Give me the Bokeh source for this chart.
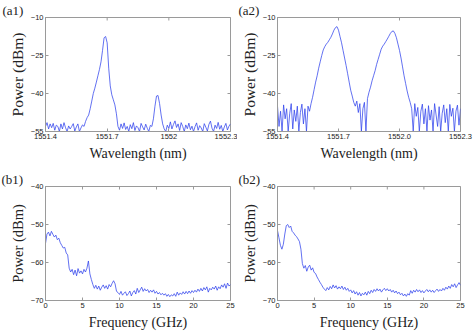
import numpy as np
from bokeh.plotting import figure
from bokeh.layouts import gridplot
from bokeh.models import FixedTicker, Title
from bokeh.embed import file_html
from bokeh.resources import INLINE

# ---------------- data ----------------
wl_start = 1551.4
wl_step = 0.0075
a1_power = [
    -53, -51.5, -54, -52, -53.5, -51.8, -54.5, -52.5, -53, -55,
    -52, -54, -51.5, -53.5, -55, -52.8, -54, -53, -51.9, -54.8,
    -53.2, -52, -55, -53.6, -52.4, -53, -51, -49.5, -48.5, -46,
    -43, -40, -37.9, -35.5, -33, -30.5, -27.5, -23, -18, -17.5,
    -20, -30, -37, -40.5, -42.5, -44.5, -48, -53, -54.5, -52,
    -53.8, -51.6, -54.2, -53, -55, -52.3, -53.9, -51.5, -54.6, -52.8,
    -53.5, -55, -51.8, -53.2, -54.4, -52.1, -53.7, -55, -52.6, -53,
    -50, -45, -41, -40.8, -44, -48.5, -52, -54, -55, -52.5,
    -53.8, -51.2, -54, -52.2, -50.8, -53.4, -52, -54.6, -51.5, -53,
    -55, -52.4, -53.9, -51.7, -54.3, -52.9, -55, -53.1, -51.6, -54.5,
    -52.7, -53.6, -55, -51.9, -53.3, -54.8, -52.2, -50.9, -53.7, -55,
    -52.5, -53.8, -51.4, -54.1, -52.6, -55, -53.2, -51.8, -54.4, -52.9,
    -52,
]
a2_power = [
    -45, -53, -47, -55, -44.5, -50, -46, -55, -48, -44,
    -54, -46.5, -51, -45, -55, -47.5, -44.2, -52, -46, -55,
    -45, -47, -44, -41.5, -38.5, -35.5, -33, -30, -27.5, -25,
    -22.8, -21.5, -20.5, -19.8, -18.8, -17.8, -16.5, -15, -14, -13.6,
    -15, -17.5, -20, -23, -26, -29, -32.2, -35.5, -38.7, -41,
    -43.5, -45, -43, -47.5, -44, -55, -46, -43.5, -55, -42,
    -39.5, -37.5, -35, -33, -31, -28.5, -26.5, -24.5, -22.5, -21.3,
    -20.5, -19.5, -18.5, -17.4, -16.3, -15.5, -15.3, -16.3, -18, -20.5,
    -23, -26, -29.5, -33, -36, -39, -41.5, -43.5, -46, -55,
    -44, -49, -45.5, -55, -47, -44.2, -52, -46, -55, -44.8,
    -50.5, -46.5, -55, -44, -48.5, -53, -45.2, -55, -47.8, -44.5,
    -51.5, -46, -55, -44.3, -49, -45.8, -55, -47, -44.6, -52.5,
    -46,
]
f_step = 0.2
b1_power = [
    -55, -52.5, -52, -53, -51.8, -52.6, -53.3, -52.8, -54, -53.6,
    -54.8, -55.5, -56.2, -56, -57.5, -58, -61.5, -62.5, -61.8, -63.2,
    -62, -63.5, -61.6, -62.8, -62.2, -63, -61.8, -62.5, -61.5, -59.6,
    -63, -64.5, -65.8, -66.8, -66, -67, -66.2, -67.3, -66.5, -65.9,
    -66.8, -66.1, -67, -65.8, -66.4, -65.5, -64.8, -65.6, -67.6, -67.9,
    -68.4, -67.6, -68.6, -68.1, -67.7, -68.7, -68.2, -67.5, -68.8, -67.9,
    -67.4, -68.3, -66.8, -67.9, -67.2, -66.5, -67.6, -66.9, -67.5, -67.1,
    -67.9, -67.3, -67.8, -67.2, -68.1, -67.6, -68.3, -67.9, -68.5, -68.1,
    -68.6, -68.2, -68.9, -68.4, -69, -68.5, -68.8, -68.2, -68.9, -67.8,
    -68.6, -68, -68.4, -67.7, -68.3, -67.6, -68.2, -67.5, -68.1, -67.4,
    -67.9, -67.3, -67.8, -67, -67.6, -66.8, -67.5, -66.6, -67.2, -66.4,
    -67.8, -66.8, -67.2, -66.5, -67, -66.2, -67.3, -66.4, -66.9, -65.9,
    -66.5, -65.6, -66.8, -65.4, -66.2, -65.8,
]
b2_power = [
    -51.6, -53.5, -55.5, -56.5, -55.2, -52.5, -50.3, -50, -50.8, -50.4,
    -51.8, -52.2, -52.8, -53.2, -53.8, -54.5, -56.5, -60.3, -61.5, -60.8,
    -62.3, -61.2, -60.7, -62, -61.4, -62.6, -62.9, -63.8, -64.5, -65.2,
    -65.8, -66.5, -67, -67.4, -66.6, -67.2, -66.3, -66.9, -65.9, -66.7,
    -66.1, -67, -66.4, -66.9, -66.2, -67.1, -66.5, -67.3, -66.8, -67.6,
    -67.2, -68, -67.4, -68.3, -67.7, -68.6, -67.9, -68.8, -68.1, -68.5,
    -67.8, -68.6, -67.6, -68.2, -67.3, -67.9, -67.1, -67.6, -66.9, -67.5,
    -67, -67.8, -67.2, -66.8, -67.4, -66.9, -67.5, -67.1, -67.8, -67.3,
    -68, -67.5, -68.2, -67.8, -68.5, -68.1, -68.8, -68.3, -68.9, -68.2,
    -68.6, -67.4, -68.1, -67.3, -67.8, -67.1, -67.7, -67.2, -67.9, -67.4,
    -68, -67.5, -67.1, -67.7, -67.2, -67.8, -67.3, -67.9, -67.4, -67,
    -67.6, -67.1, -67.5, -66.8, -67.3, -66.5, -67, -66.2, -66.8, -65.8,
    -66.4, -65.6, -66.6, -65.9, -65.3, -66,
]

a_xticks = [1551.4, 1551.7, 1552.0, 1552.3]
a1_xlabels = {1551.4: "1551.4", 1551.7: "1551.7", 1552.0: "1552", 1552.3: "1552.3"}
a2_xlabels = {1551.4: "1551.4", 1551.7: "1551.7", 1552.0: "1552.0", 1552.3: "1552.3"}
a_yticks = [-55, -40, -25, -10]
b_xticks = [0, 5, 10, 15, 20, 25]
b_yticks = [-70, -60, -50, -40]

SERIF = "Liberation Serif"
SANS = "Liberation Sans"
LINE = "#2f42ec"
FRAME = "#9a9a9a"
TXT = "#222222"


def make_panel(xs, ys, xr, yr, xticks, yticks, xlabel_over, xlabel, tag,
               left, right, top, bottom, ylab_size, tag_offset):
    p = figure(width=237, height=166, x_range=xr, y_range=yr,
               output_backend="svg", toolbar_location=None,
               min_border_left=left, min_border_right=right,
               min_border_top=top, min_border_bottom=bottom)
    p.title = Title(text=tag, align="left", offset=tag_offset, standoff=0,
                    text_font=SERIF, text_font_size="13px",
                    text_font_style="normal", text_color=TXT)
    p.background_fill_color = "white"
    p.border_fill_color = "white"
    p.grid.visible = False
    p.outline_line_color = FRAME
    p.outline_line_width = 1
    p.line(xs, ys, line_color=LINE, line_width=0.75)
    # inward box ticks on the top and right edges (half of each dash is clipped)
    p.scatter(x=xticks, y=[yr[1]] * len(xticks), marker="dash", size=6,
              angle=np.pi / 2, line_color=FRAME, line_width=1)
    p.scatter(x=[xr[1]] * len(yticks), y=yticks, marker="dash", size=6,
              line_color=FRAME, line_width=1)
    for ax, ticks in ((p.xaxis[0], xticks), (p.yaxis[0], yticks)):
        ax.ticker = FixedTicker(ticks=ticks)
        ax.axis_line_color = FRAME
        ax.major_tick_line_color = FRAME
        ax.major_tick_in = 3
        ax.major_tick_out = 0
        ax.minor_tick_line_color = None
        ax.major_label_text_font = SANS
        ax.major_label_text_font_size = "7.5px"
        ax.major_label_text_color = TXT
        ax.major_label_standoff = 2
        ax.axis_label_text_font = SERIF
        ax.axis_label_text_font_style = "normal"
        ax.axis_label_text_color = TXT
    if xlabel_over:
        p.xaxis[0].major_label_overrides = xlabel_over
    p.xaxis[0].axis_label = xlabel
    p.xaxis[0].axis_label_text_font_size = "14px"
    p.xaxis[0].axis_label_standoff = 4
    p.yaxis[0].axis_label = "Power (dBm)"
    p.yaxis[0].axis_label_text_font_size = ylab_size
    p.yaxis[0].axis_label_standoff = 2
    return p


wl1 = wl_start + wl_step * np.arange(len(a1_power))
wl2 = wl_start + wl_step * np.arange(len(a2_power))
fb1 = f_step * np.arange(len(b1_power))
fb2 = f_step * np.arange(len(b2_power))

p1 = make_panel(wl1, a1_power, (1551.4, 1552.3), (-55, -10), a_xticks, a_yticks,
                a1_xlabels, "Wavelength (nm)", "(a1)", 45, 7, 15, 35, "15.5px", -43)
p2 = make_panel(wl2, a2_power, (1551.4, 1552.3), (-55, -10), a_xticks, a_yticks,
                a2_xlabels, "Wavelength (nm)", "(a2)", 39, 14, 15, 35, "15.5px", -39)
p3 = make_panel(fb1, b1_power, (0, 25), (-70, -40), b_xticks, b_yticks,
                None, "Frequency (GHz)", "(b1)", 44, 7, 20, 31, "14.5px", -44)
p4 = make_panel(fb2, b2_power, (0, 25), (-70, -40), b_xticks, b_yticks,
                None, "Frequency (GHz)", "(b2)", 39, 13, 20, 31, "14.5px", -39)

grid = gridplot([[p1, p2], [p3, p4]], toolbar_location=None)
grid.spacing = 0

open("out.html", "w").write(file_html(grid, INLINE))
